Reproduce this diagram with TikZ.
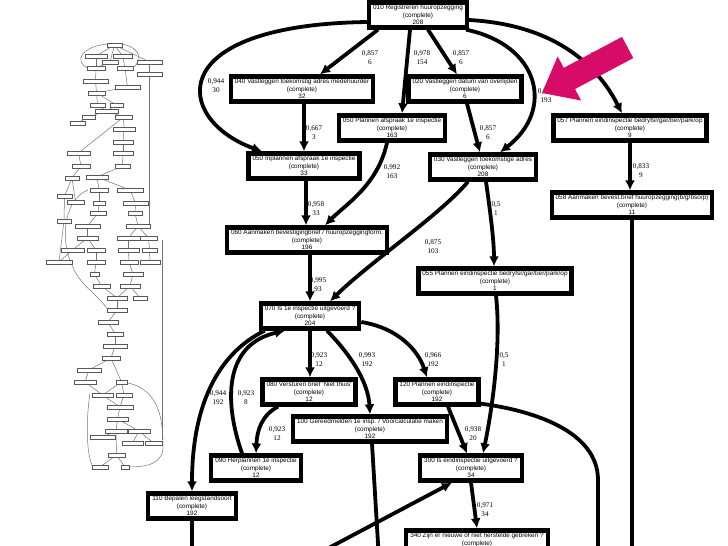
\documentclass[tikz,border=0pt]{standalone}
\usepackage{fontspec}
\newfontfamily\procfont{Liberation Sans}
\newfontfamily\freqfont{Liberation Serif}
\usetikzlibrary{arrows.meta, calc}
\definecolor{pinkarrow}{RGB}{214,12,104}

\begin{document}
\begin{tikzpicture}[x=1pt, y=-1pt,
        act/.style={draw, line width=4.2pt, fill=white, align=center,
            font=\procfont\fontsize{6.4}{7.6}\selectfont, inner xsep=4pt, inner ysep=2.6pt},
        lbl/.style={align=center, font=\freqfont\fontsize{7.2}{9}\selectfont, inner sep=0pt},
        flow/.style={line width=3.8pt, -{Latex[length=10pt,width=10pt]}},
        bare/.style={line width=3.8pt},
        mini/.style={draw=black!65, fill=white, line width=0.6pt},
        miniline/.style={draw=black!55, line width=0.5pt}]
    \clip (0,0) rectangle (728,546);

    % overview of the whole model
    \foreach \xa/\ya/\xb/\yb in {114.5/45/96/56, 114.5/45/122.5/56, 114.5/45/110/62, 114.5/45/149.5/62,
            96/56/96/68, 122.5/56/125/68, 110/62/96/68, 149.5/62/149.5/74, 96/68/95.5/81,
            125/68/127.5/87, 95.5/81/96.5/93, 127.5/87/96.5/93, 96.5/93/97.5/105, 96.5/93/116.5/105,
            97.5/105/106.5/111, 116.5/105/106.5/111, 106.5/111/88.5/117, 106.5/111/123.5/117,
            88.5/117/77.5/123, 123.5/117/124/129, 124/129/123/142, 123/142/123/153, 123.5/117/78.5/153,
            123/153/122.5/166, 78.5/153/81/166, 81/166/72/178, 122.5/166/97/177, 72/178/64.5/196,
            72/178/75.5/202, 97/177/99/190, 97/177/130/190, 99/190/99/203, 130/190/135.5/203,
            99/203/98/213, 135.5/203/135/213, 64.5/196/64/221, 98/213/87.5/226, 135/213/138/226,
            87.5/226/87.5/238, 138/226/128.5/238, 138/226/148.5/238, 87.5/238/72.5/250, 87.5/238/96/250,
            128.5/238/128.5/250, 148.5/238/149.5/250, 72.5/250/59/262, 96/250/96/262, 128.5/250/129/262,
            149.5/250/150/262, 64/221/59/262, 96/262/94.5/274, 129/262/133/274, 94.5/274/101.5/286,
            133/274/130/286, 101.5/286/117/298, 130/286/117/298, 130/286/140/298, 117/298/117/310,
            117/310/108/322, 108/322/115/334, 115/334/115/346, 115/346/111/358, 111/358/89/370,
            89/370/85/382, 111/358/121.5/382, 85/382/102.5/395, 121.5/382/124/395, 121.5/382/102.5/395,
            102.5/395/120/407, 124/395/120/407, 120/407/117.5/419, 117.5/419/116/431, 117.5/419/139/431,
            116/431/102.5/437, 116/431/116.5/455, 139/431/132.5/443, 139/431/153.5/443,
            116.5/455/100/467, 116.5/455/125/467, 149.5/74/149.5/226, 162/240/162/440}
        \draw[miniline] (\xa,\ya) -- (\xb,\yb);
    \draw[miniline] (107,44) .. controls (80,47) and (74,62) .. (88,68);
    \draw[miniline] (122,44) .. controls (142,48) and (143,62) .. (132,68);
    \draw[miniline] (88,190) .. controls (60,200) and (55,260) .. (90,290) .. controls (100,300) and (105,305) .. (108,310);
    \draw[miniline] (121.5,382) .. controls (160,386) and (163,420) .. (163,447) .. controls (163,462) and (150,467) .. (129,467);
    \draw[miniline] (90,393) .. controls (86,420) and (86,455) .. (93,467);
    \foreach \cx/\cy/\w in {114.5/45/15, 96/56/22, 122.5/56/19, 110/62/16, 149.5/62/25, 96/68/18,
            125/68/16, 149.5/74/25, 95.5/81/25, 127.5/87/25, 96.5/93/17, 97.5/105/15, 116.5/105/13,
            106.5/111/23, 88.5/117/13, 123.5/117/17, 77.5/123/15, 124/129/22, 123/142/20, 123/153/20,
            78.5/153/23, 81/166/18, 122.5/166/15, 72/178/14, 97/177/22, 64.5/196/15, 75.5/202/17,
            99/190/18, 130/190/26, 99/203/12, 135.5/203/25, 98/213/16, 135/213/14, 64/221/14,
            87.5/226/25, 138/226/24, 87.5/238/21, 128.5/238/23, 148.5/238/17, 72.5/250/23, 96/250/18,
            128.5/250/21, 149.5/250/15, 59/262/26, 96/262/18, 129/262/18, 150/262/20, 94.5/274/9,
            133/274/20, 101.5/286/17, 130/286/20, 117/298/20, 140/298/14, 117/310/20, 108/322/20,
            115/334/16, 115/346/24, 111/358/18, 89/370/24, 85/382/22, 121.5/382/11, 102.5/395/21,
            124/395/16, 120/407/26, 117.5/419/21, 116/431/22, 139/431/22, 102.5/437/25, 132.5/443/21,
            153.5/443/17, 116.5/455/17, 100/467/16, 125/467/8}
        \draw[mini] ({\cx-\w/2},{\cy-2}) rectangle ({\cx+\w/2},{\cy+2});

    % activities
    \node[act] at (418,15) (n010) {010 Registreren huuropzegging\\(complete)\\208};
    \node[act] at (302,89) (n040) {040 Vastleggen toekomstig adres medehuurder\\(complete)\\32};
    \node[act] at (465,89) (n020) {020 Vastleggen datum van overlijden\\(complete)\\6};
    \node[act] at (392,128) (n050p) {050 Plannen afspraak 1e inspectie\\(complete)\\163};
    \node[act] at (304,166) (n050i) {050 Inplannen afspraak 1e inspectie\\(complete)\\33};
    \node[act] at (483,167) (n030) {030 Vastleggen toekomstige adres\\(complete)\\208};
    \node[act] at (630,128) (n057) {057 Plannen eindinspectie bedryfsr/gar/ber/park/op\\(complete)\\9};
    \node[act] at (632,205) (n058) {058 Aanmaken bevest.brief huuropzegging(b/g/bso/p)\\(complete)\\11};
    \node[act] at (307,240) (n060) {060 Aanmaken bevestigingbrief / huuropzeggingform.\\(complete)\\196};
    \node[act] at (495,281) (n055) {055 Plannen eindinspectie bedryfsr/gar/ber/park/op\\(complete)\\1};
    \node[act] at (310,316) (n070) {070 Is 1e inspectie uitgevoerd ?\\(complete)\\204};
    \node[act] at (309,392) (n080) {080 Versturen brief 'Niet thuis'\\(complete)\\12};
    \node[act] at (437,392) (n120) {120 Plannen eindinspectie\\(complete)\\192};
    \node[act] at (370,429) (n100) {100 Gereedmelden 1e insp. / Voorcalculatie maken\\(complete)\\192};
    \node[act] at (256,468) (n090) {090 Herplannen 1e inspectie\\(complete)\\12};
    \node[act] at (471,468) (n300) {300 Is eindinspectie uitgevoerd ?\\(complete)\\34};
    \node[act] at (192,506) (n110) {110 Bepalen leegstandsoort\\(complete)\\192};
    \node[act] at (477,543) (n340) {340 Zijn er nieuwe of niet herstelde gebreken ?\\(complete)\\34};

    \coordinate (e058) at (632,560);
    \coordinate (e120) at (598,560);
    \coordinate (e100) at (379,560);
    \coordinate (e110) at (192,560);
    \coordinate (e300) at (306,560);

    % flows
    \draw[flow] ([xshift=-40pt]n010.south) -- ([xshift=18pt]n040.north);
    \draw[flow] ([xshift=-8pt]n010.south) -- ([xshift=10pt]n050p.north);
    \draw[flow] ([xshift=10pt]n010.south) -- ([xshift=-8pt]n020.north);
    \draw[flow] ([yshift=-7pt]n010.west) .. controls (160,25) and (175,120) .. ([xshift=-42pt]n050i.north);
    \draw[flow] ([xshift=-3pt]n010.south east) .. controls (540,45) and (555,110) .. ([xshift=17pt]n030.north);
    \draw[flow] ([yshift=-5pt]n010.east) .. controls (560,25) and (600,70) .. ([xshift=-8pt]n057.north);
    \draw[flow] (n040.south -| n050i.north) -- (n050i.north);
    \draw[flow] ([xshift=-5pt]n050p.south) .. controls (378,185) and (345,205) .. ([xshift=18pt]n060.north);
    \draw[flow] ([xshift=2pt]n020.south) -- ([xshift=-3pt]n030.north);
    \draw[flow] ([xshift=2pt]n050i.south) -- ([xshift=2pt]n050i.south |- n060.north);
    \draw[flow] (n057.south) -- (n057.south |- n058.north);
    \draw[flow] ([xshift=-15pt]n030.south) .. controls (440,215) and (370,262) .. ([xshift=20pt]n070.north);
    \draw[flow] ([xshift=3pt]n030.south) .. controls (490,210) and (494,240) .. ([xshift=-1pt]n055.north);
    \draw[flow] (n060.south -| n070.north) -- (n070.north);
    \draw[bare] (n058.south) -- (e058);
    \draw[flow] ([xshift=1pt]n055.south) .. controls (502,350) and (490,420) .. ([xshift=12pt]n300.north);
    \draw[flow] (n070.south) -- (n070.south |- n080.north);
    \draw[flow] ([xshift=17pt]n070.south) .. controls (348,352) and (368,380) .. (n100.north);
    \draw[flow] ([yshift=-6pt]n070.east) .. controls (398,328) and (418,350) .. ([xshift=-10pt]n120.north);
    \draw[flow] ([xshift=6pt]n070.south west) .. controls (215,355) and (192,410) .. (n110.north);
    \draw[flow] ([xshift=-14pt]n090.north) .. controls (225,405) and (222,345) .. ([xshift=-25pt]n070.south);
    \draw[flow] ([xshift=-31pt]n080.south) .. controls (262,415) and (257,430) .. (n090.north);
    \draw[flow] ([xshift=11pt]n120.south) -- ([xshift=-4pt]n300.north);
    \draw[bare] ([yshift=3pt]n120.south east) .. controls (530,410) and (598,430) .. (598,480) -- (e120);
    \draw[bare] ([xshift=2pt]n100.south) -- (e100);
    \draw[flow] (e300) -- ([xshift=-19pt]n300.south);
    \draw[flow] (n300.south) -- (n340.north);
    \draw[bare] (n110.south) -- (e110);

    % frequencies
    \node[lbl] at (370,58) (l010a) {0,857\\6};
    \node[lbl] at (422,58) (l010b) {0,978\\154};
    \node[lbl] at (461,58) (l010c) {0,857\\6};
    \node[lbl] at (216,86) (l010d) {0,944\\30};
    \node[lbl] at (546,96) (l010e) {0,992\\193};
    \node[lbl] at (595,60) (l010f) {0,9\\9};
    \node[lbl] at (314,133) (l040) {0,667\\3};
    \node[lbl] at (392,172) (l050p) {0,992\\163};
    \node[lbl] at (488,133) (l020) {0,857\\6};
    \node[lbl] at (316,209) (l050i) {0,958\\33};
    \node[lbl] at (641,171) (l057) {0,833\\9};
    \node[lbl] at (433,247) (l030a) {0,875\\103};
    \node[lbl] at (496,209) (l030b) {0,5\\1};
    \node[lbl] at (318,285) (l060) {0,995\\93};
    \node[lbl] at (504,360) (l055) {0,5\\1};
    \node[lbl] at (319,360) (l070a) {0,923\\12};
    \node[lbl] at (367,360) (l070b) {0,993\\192};
    \node[lbl] at (433,360) (l070c) {0,966\\192};
    \node[lbl] at (218,398) (l070d) {0,944\\192};
    \node[lbl] at (246,398) (l090) {0,923\\8};
    \node[lbl] at (277,434) (l080) {0,923\\12};
    \node[lbl] at (473,434) (l120) {0,938\\20};
    \node[lbl] at (485,510) (l300) {0,971\\34};

    % pointer
    \begin{scope}[shift={(542,93)}, rotate=28]
        \fill[pinkarrow] (0,0) -- (31,25) -- (31,12) -- (97,12) -- (97,-12) -- (31,-12) -- (31,-25) -- cycle;
    \end{scope}
\end{tikzpicture}
\end{document}
